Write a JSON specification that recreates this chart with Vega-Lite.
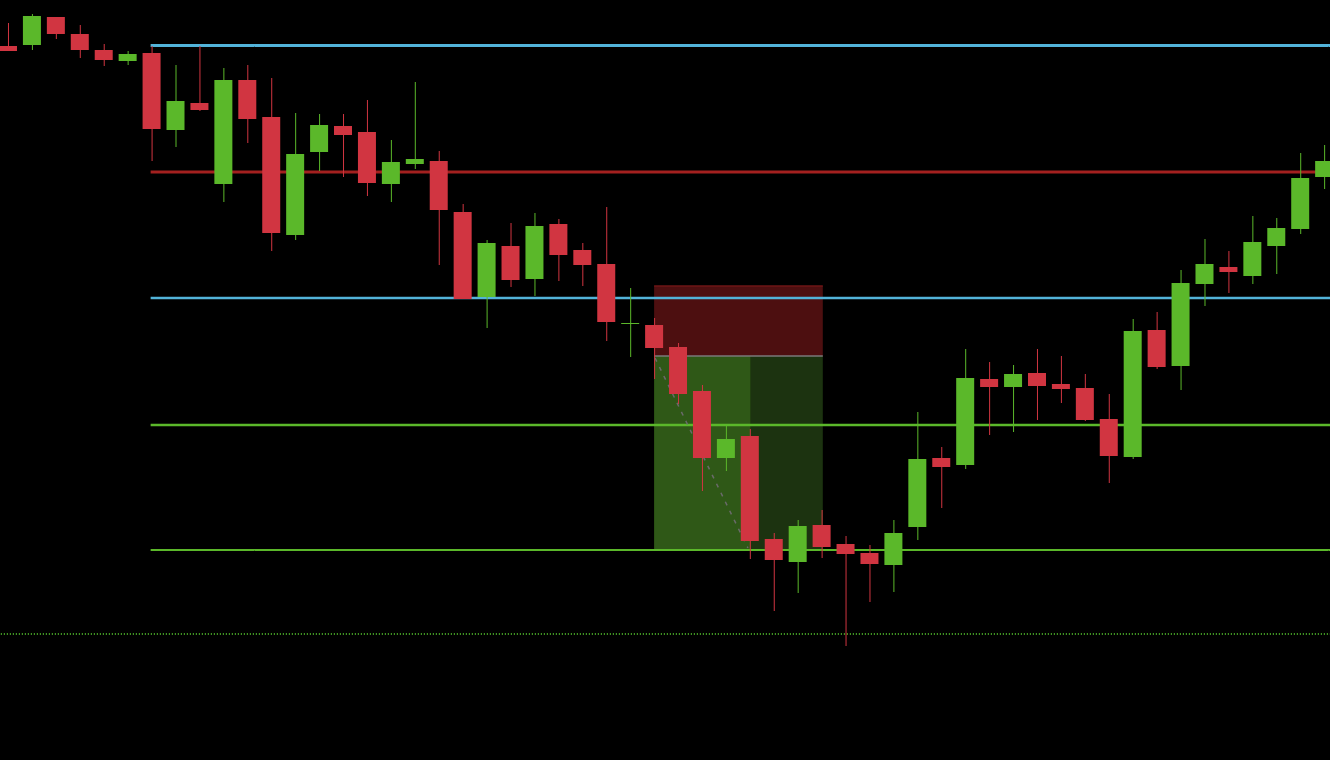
{
  "$schema": "https://vega.github.io/schema/vega-lite/v6.json",
  "width": 1330,
  "height": 760,
  "padding": 0,
  "autosize": {"type": "none"},
  "background": "#000000",
  "config": {"view": {"stroke": null}},
  "resolve": {"scale": {"color": "independent", "strokeWidth": "independent", "strokeDash": "independent"}},
  "datasets": {
    "candles": [
      {"i":0,"o":1.2954,"h":1.2977,"l":1.2949,"c":1.2949},
      {"i":1,"o":1.2955,"h":1.2986,"l":1.2950,"c":1.2984},
      {"i":2,"o":1.2983,"h":1.2983,"l":1.2961,"c":1.2966},
      {"i":3,"o":1.2966,"h":1.2975,"l":1.2942,"c":1.2950},
      {"i":4,"o":1.2950,"h":1.2956,"l":1.2934,"c":1.2940},
      {"i":5,"o":1.2939,"h":1.2949,"l":1.2935,"c":1.2946},
      {"i":6,"o":1.2947,"h":1.2954,"l":1.2839,"c":1.2871},
      {"i":7,"o":1.2870,"h":1.2935,"l":1.2853,"c":1.2899},
      {"i":8,"o":1.2897,"h":1.2954,"l":1.2889,"c":1.2890},
      {"i":9,"o":1.2816,"h":1.2932,"l":1.2798,"c":1.2920},
      {"i":10,"o":1.2920,"h":1.2935,"l":1.2857,"c":1.2881},
      {"i":11,"o":1.2883,"h":1.2922,"l":1.2749,"c":1.2767},
      {"i":12,"o":1.2765,"h":1.2887,"l":1.2760,"c":1.2846},
      {"i":13,"o":1.2848,"h":1.2886,"l":1.2829,"c":1.2875},
      {"i":14,"o":1.2874,"h":1.2886,"l":1.2823,"c":1.2865},
      {"i":15,"o":1.2868,"h":1.2900,"l":1.2804,"c":1.2817},
      {"i":16,"o":1.2816,"h":1.2860,"l":1.2798,"c":1.2838},
      {"i":17,"o":1.2836,"h":1.2918,"l":1.2831,"c":1.2841},
      {"i":18,"o":1.2839,"h":1.2849,"l":1.2735,"c":1.2790},
      {"i":19,"o":1.2788,"h":1.2796,"l":1.2701,"c":1.2701},
      {"i":20,"o":1.2703,"h":1.2760,"l":1.2672,"c":1.2757},
      {"i":21,"o":1.2754,"h":1.2777,"l":1.2713,"c":1.2720},
      {"i":22,"o":1.2721,"h":1.2787,"l":1.2704,"c":1.2774},
      {"i":23,"o":1.2776,"h":1.2781,"l":1.2719,"c":1.2745},
      {"i":24,"o":1.2750,"h":1.2757,"l":1.2714,"c":1.2735},
      {"i":25,"o":1.2736,"h":1.2793,"l":1.2659,"c":1.2678},
      {"i":26,"o":1.2676,"h":1.2712,"l":1.2643,"c":1.2677},
      {"i":27,"o":1.2675,"h":1.2682,"l":1.2621,"c":1.2652},
      {"i":28,"o":1.2653,"h":1.2657,"l":1.2596,"c":1.2606},
      {"i":29,"o":1.2609,"h":1.2615,"l":1.2509,"c":1.2542},
      {"i":30,"o":1.2542,"h":1.2575,"l":1.2529,"c":1.2561},
      {"i":31,"o":1.2564,"h":1.2571,"l":1.2441,"c":1.2459},
      {"i":32,"o":1.2461,"h":1.2467,"l":1.2389,"c":1.2440},
      {"i":33,"o":1.2438,"h":1.2480,"l":1.2407,"c":1.2474},
      {"i":34,"o":1.2475,"h":1.2490,"l":1.2442,"c":1.2453},
      {"i":35,"o":1.2456,"h":1.2464,"l":1.2354,"c":1.2446},
      {"i":36,"o":1.2447,"h":1.2455,"l":1.2398,"c":1.2436},
      {"i":37,"o":1.2435,"h":1.2480,"l":1.2408,"c":1.2467},
      {"i":38,"o":1.2473,"h":1.2588,"l":1.2460,"c":1.2541},
      {"i":39,"o":1.2542,"h":1.2553,"l":1.2492,"c":1.2533},
      {"i":40,"o":1.2535,"h":1.2651,"l":1.2531,"c":1.2622},
      {"i":41,"o":1.2621,"h":1.2638,"l":1.2565,"c":1.2613},
      {"i":42,"o":1.2613,"h":1.2635,"l":1.2568,"c":1.2626},
      {"i":43,"o":1.2627,"h":1.2651,"l":1.2580,"c":1.2614},
      {"i":44,"o":1.2616,"h":1.2644,"l":1.2597,"c":1.2611},
      {"i":45,"o":1.2612,"h":1.2626,"l":1.2579,"c":1.2580},
      {"i":46,"o":1.2581,"h":1.2606,"l":1.2517,"c":1.2544},
      {"i":47,"o":1.2543,"h":1.2681,"l":1.2541,"c":1.2669},
      {"i":48,"o":1.2670,"h":1.2688,"l":1.2631,"c":1.2633},
      {"i":49,"o":1.2634,"h":1.2730,"l":1.2610,"c":1.2717},
      {"i":50,"o":1.2716,"h":1.2761,"l":1.2694,"c":1.2736},
      {"i":51,"o":1.2733,"h":1.2749,"l":1.2707,"c":1.2728},
      {"i":52,"o":1.2724,"h":1.2784,"l":1.2716,"c":1.2758},
      {"i":53,"o":1.2754,"h":1.2782,"l":1.2726,"c":1.2772},
      {"i":54,"o":1.2771,"h":1.2847,"l":1.2766,"c":1.2822},
      {"i":55,"o":1.2823,"h":1.2855,"l":1.2811,"c":1.2839}
    ],
    "levels": [
      {"name":"top","p":1.29545,"x0":5.96,"x1":56},
      {"name":"red","p":1.2828,"x0":5.96,"x1":56},
      {"name":"blue","p":1.2702,"x0":5.96,"x1":56},
      {"name":"green1","p":1.2575,"x0":5.96,"x1":56},
      {"name":"green2","p":1.2450,"x0":5.96,"x1":56},
      {"name":"dotted","p":1.2366,"x0":-0.3,"x1":56}
    ],
    "zones": [
      {"zone":"stop","x0":27.0,"x1":34.05,"top":1.2714,"bottom":1.2644},
      {"zone":"target_hit","x0":27.0,"x1":31.04,"top":1.2644,"bottom":1.2450},
      {"zone":"target_rest","x0":31.04,"x1":34.05,"top":1.2644,"bottom":1.2450}
    ],
    "zoneLines": [
      {"kind":"stopEdge","x0":27.0,"x1":34.05,"p":1.2714},
      {"kind":"entry","x0":27.0,"x1":34.05,"p":1.2644}
    ],
    "path": [
      {"x":27.04,"p":1.2642},
      {"x":30.92,"p":1.2452}
    ]
  },
  "layer": [
    {
      "data": {"name": "zones"},
      "mark": {"type": "rect", "clip": true},
      "encoding": {
        "x": {"field": "x0", "type": "quantitative", "axis": null, "scale": {"domain": [-0.3343, 55.245], "nice": false, "zero": false, "padding": 0}},
        "x2": {"field": "x1"},
        "y": {"field": "top", "type": "quantitative", "axis": null, "scale": {"domain": [1.224, 1.3], "nice": false, "zero": false, "padding": 0}},
        "y2": {"field": "bottom"},
        "color": {"field": "zone", "type": "nominal", "legend": null, "scale": {"domain": ["stop", "target_hit", "target_rest"], "range": ["#4d0f10", "#2f5817", "#1c3310"]}}
      }
    },
    {
      "data": {"name": "levels"},
      "mark": {"type": "rule", "clip": true},
      "encoding": {
        "x": {"field": "x0", "type": "quantitative", "axis": null, "scale": {"domain": [-0.3343, 55.245], "nice": false, "zero": false, "padding": 0}},
        "x2": {"field": "x1"},
        "y": {"field": "p", "type": "quantitative", "axis": null, "scale": {"domain": [1.224, 1.3], "nice": false, "zero": false, "padding": 0}},
        "color": {"field": "name", "type": "nominal", "legend": null, "scale": {"domain": ["top", "red", "blue", "green1", "green2", "dotted"], "range": ["#52b3d9", "#a3201f", "#52b3d9", "#5bb82a", "#5bb82a", "#4caf2a"]}},
        "strokeWidth": {"field": "name", "type": "nominal", "legend": null, "scale": {"domain": ["top", "red", "blue", "green1", "green2", "dotted"], "range": [3, 2, 2, 2, 2, 1]}},
        "strokeDash": {"field": "name", "type": "nominal", "legend": null, "scale": {"domain": ["top", "red", "blue", "green1", "green2", "dotted"], "range": [[1, 0], [1, 0], [1, 0], [1, 0], [1, 0], [1, 2]]}}
      }
    },
    {
      "data": {"name": "zoneLines"},
      "mark": {"type": "rule", "clip": true, "strokeWidth": 1.5},
      "encoding": {
        "x": {"field": "x0", "type": "quantitative", "axis": null, "scale": {"domain": [-0.3343, 55.245], "nice": false, "zero": false, "padding": 0}},
        "x2": {"field": "x1"},
        "y": {"field": "p", "type": "quantitative", "axis": null, "scale": {"domain": [1.224, 1.3], "nice": false, "zero": false, "padding": 0}},
        "color": {"condition": {"test": "datum.kind == 'entry'", "value": "#7a7a7a"}, "value": "#6e1616"}
      }
    },
    {
      "data": {"name": "path"},
      "mark": {"type": "line", "clip": true, "color": "#6a6a6a", "strokeWidth": 1.5, "strokeDash": [4, 6]},
      "encoding": {
        "x": {"field": "x", "type": "quantitative", "axis": null, "scale": {"domain": [-0.3343, 55.245], "nice": false, "zero": false, "padding": 0}},
        "y": {"field": "p", "type": "quantitative", "axis": null, "scale": {"domain": [1.224, 1.3], "nice": false, "zero": false, "padding": 0}}
      }
    },
    {
      "data": {"name": "candles"},
      "mark": {"type": "rule", "clip": true, "strokeWidth": 1, "xOffset": 0.5},
      "encoding": {
        "x": {"field": "i", "type": "quantitative", "axis": null, "scale": {"domain": [-0.3343, 55.245], "nice": false, "zero": false, "padding": 0}},
        "y": {"field": "l", "type": "quantitative", "axis": null, "scale": {"domain": [1.224, 1.3], "nice": false, "zero": false, "padding": 0}},
        "y2": {"field": "h"},
        "color": {"condition": {"test": "datum.o < datum.c", "value": "#5bb82a"}, "value": "#d13541"}
      }
    },
    {
      "data": {"name": "candles"},
      "mark": {"type": "bar", "clip": true, "size": 18},
      "encoding": {
        "x": {"field": "i", "type": "quantitative", "axis": null, "scale": {"domain": [-0.3343, 55.245], "nice": false, "zero": false, "padding": 0}},
        "y": {"field": "o", "type": "quantitative", "axis": null, "scale": {"domain": [1.224, 1.3], "nice": false, "zero": false, "padding": 0}},
        "y2": {"field": "c"},
        "color": {"condition": {"test": "datum.o < datum.c", "value": "#5bb82a"}, "value": "#d13541"}
      }
    }
  ]
}
